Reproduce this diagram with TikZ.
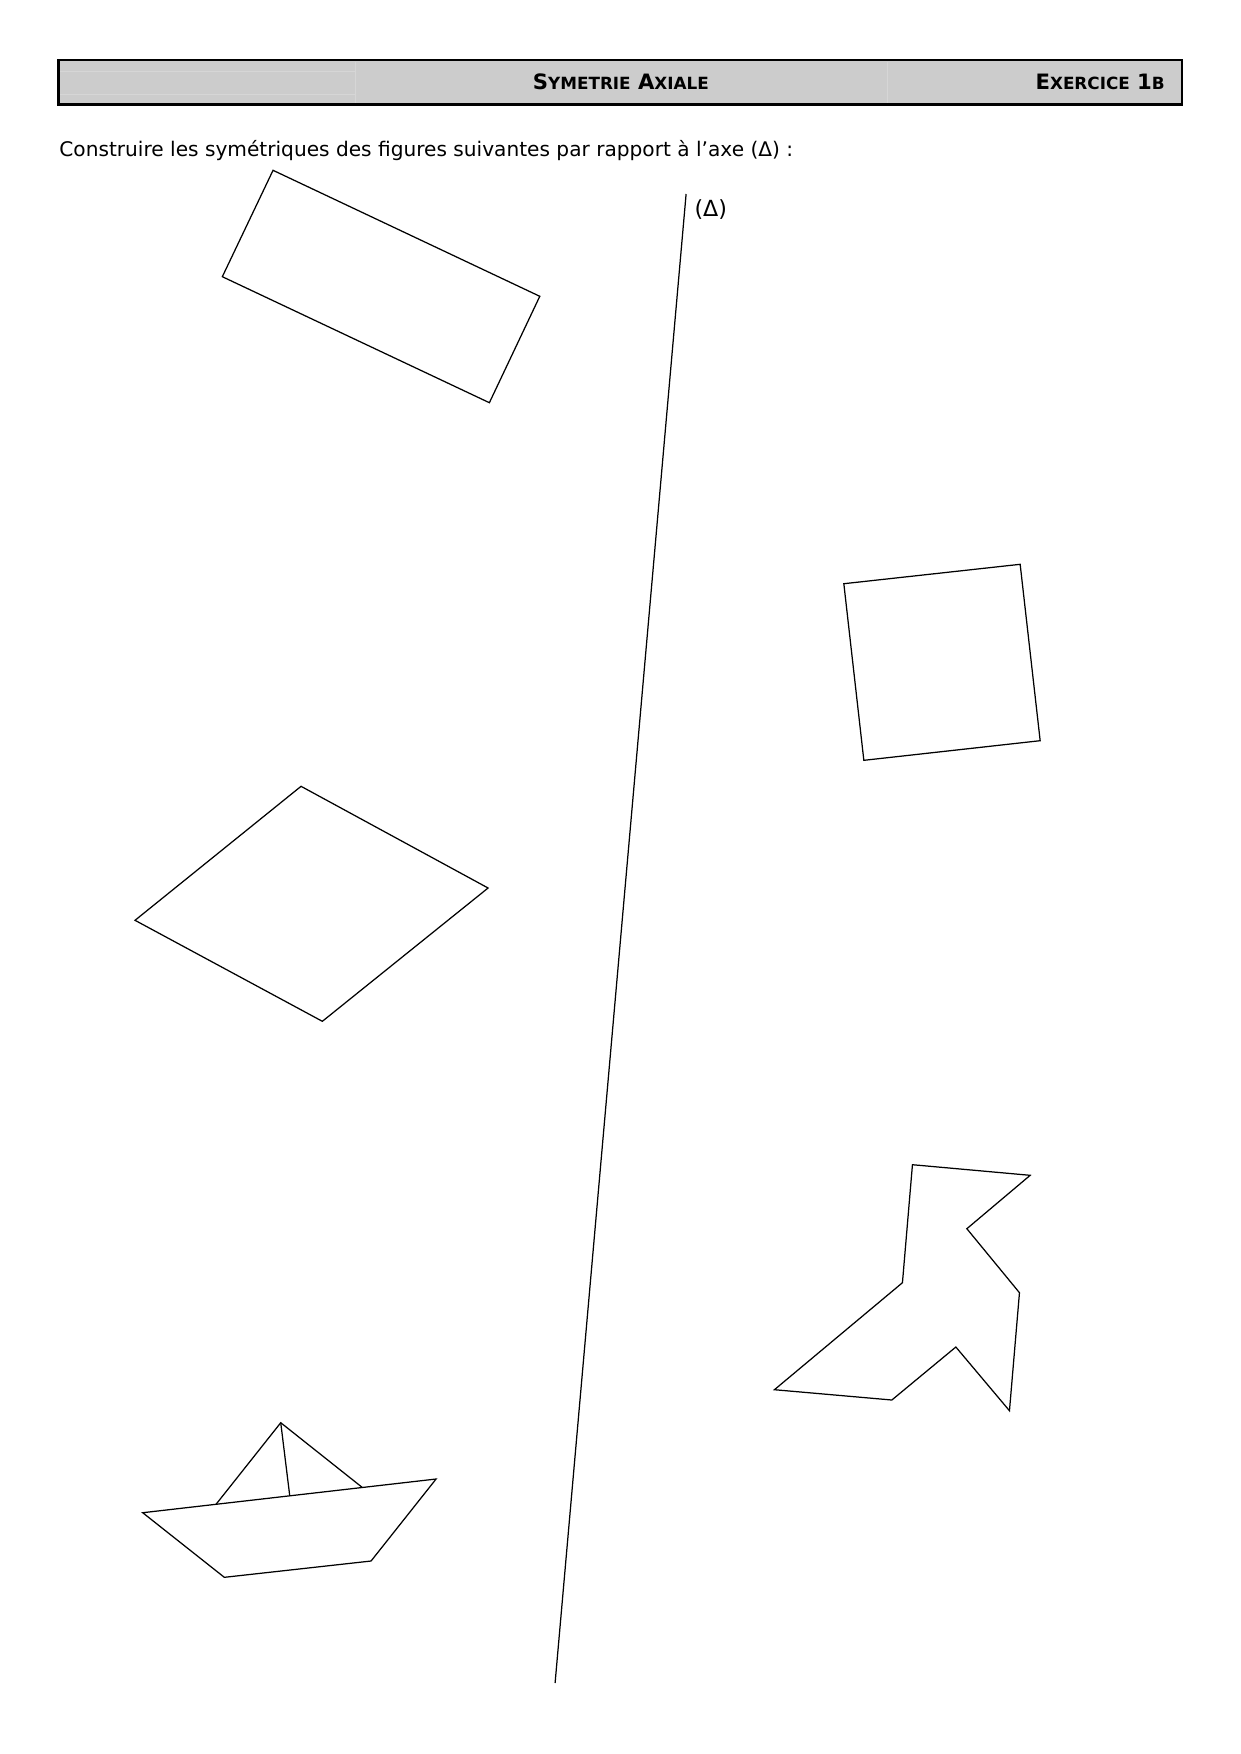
\documentclass[tikz,border=0pt]{standalone}
\usepackage{fontspec}
\setmainfont{DejaVu Sans}
\usetikzlibrary{positioning}
\newcommand{\petitcap}[2]{#1{\fontsize{8.1}{9}\selectfont #2}}

\begin{document}
\begin{tikzpicture}[x={(0.16935mm,0)}, y={(0,-0.16933mm)},
  figure/.style={line width=0.6pt},
  titre/.style={font=\bfseries\fontsize{10.2}{11}\selectfont, inner sep=0pt, anchor=base},
  texte/.style={font=\fontsize{9.7}{11}\selectfont, inner sep=0pt, anchor=base west}]
\useasboundingbox (0,0) rectangle (1240,1754);
%
% bandeau
\draw[line width=1.3pt, fill=black!20] (58.7,60) rectangle (1181.7,104.5);
\draw[black!16, line width=0.4pt] (355,61.5) -- (355,103) (887,61.5) -- (887,103)
  (60,71) -- (355,71) (60,94) -- (355,94);
\node[titre] (titre) at (620.8,89.5) {\petitcap{S}{YMETRIE} \petitcap{A}{XIALE}};
\node[titre, anchor=base east] (exo) at (1165,89.5) {\petitcap{E}{XERCICE} \petitcap{1}{B}};
\node[texte] (consigne) at (59,156) {Construire les symétriques des figures suivantes par rapport à l’axe (Δ) :};
%
% axe
\coordinate (d1) at (686,194);
\coordinate (d2) at (555,1683);
\draw[figure] (d1) -- (d2);
\node[texte, font=\fontsize{10.7}{12}\selectfont] (delta) at (694,216.7) {(Δ)};
%
% rectangle
\draw[figure] (273,170.3) coordinate (r1) -- (539.7,296.3) coordinate (r2)
  -- (489.3,402.7) coordinate (r3) -- (222.3,276.7) coordinate (r4) -- cycle;
% carre
\draw[figure] (843.7,583.7) coordinate (c1) -- (1020,564.3) coordinate (c2)
  -- (1040,740.7) coordinate (c3) -- (863.7,760.3) coordinate (c4) -- cycle;
% losange
\draw[figure] (301,786.3) coordinate (l1) -- (488,888) coordinate (l2)
  -- (322.3,1021.3) coordinate (l3) -- (135,920.3) coordinate (l4) -- cycle;
%
% oiseau
\draw[figure] (912.3,1164.7) coordinate (o1) -- (1030,1175.3) coordinate (o2)
  -- (966.7,1228.7) coordinate (o3) -- (1019.3,1292.7) coordinate (o4)
  -- (1009.3,1410.7) coordinate (o5) -- (955.7,1347) coordinate (o6)
  -- (891.7,1400) coordinate (o7) -- (774.3,1389.7) coordinate (o8)
  -- (902.3,1282.7) coordinate (o9) -- cycle;
%
% bateau
\draw[figure] (142.7,1512.7) coordinate (b1) -- (436,1479) coordinate (b2)
  -- (371,1561) coordinate (b3) -- (224.3,1577.3) coordinate (b4) -- cycle;
\coordinate (v0) at (280.7,1422.7);
\coordinate (v1) at (216,1504.3);
\coordinate (v2) at (289.7,1495.8);
\coordinate (v3) at (362.3,1487.5);
\draw[figure] (v1) -- (v0) -- (v3);
\draw[figure] (v0) -- (v2);
%
\end{tikzpicture}
\end{document}
